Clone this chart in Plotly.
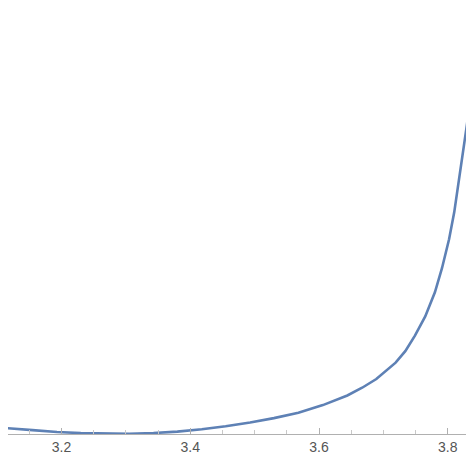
import plotly.graph_objects as go

x_vals = [3.10, 3.117, 3.155, 3.193, 3.23, 3.268, 3.305, 3.343, 3.38, 3.418, 3.455, 3.493, 3.53, 3.568, 3.606, 3.644, 3.667, 3.689, 3.704, 3.719, 3.734, 3.749, 3.765, 3.780, 3.791, 3.802, 3.810, 3.817, 3.824, 3.830, 3.84]
y_vals = [5, 6, 4, 2, 1, 0.3, 0.2, 1, 2.5, 5, 8, 12, 16.5, 22, 30, 40, 48, 57, 65, 74, 86, 102, 122, 147, 172, 202, 230, 262, 292, 322, 380]
tick_vals = [3.2, 3.4, 3.6, 3.8]
tick_text = ["3.2", "3.4", "3.6", "3.8"]

fig = go.Figure(go.Scatter(x=x_vals, y=y_vals, mode="lines", line=dict(color="#5E81B5", width=2.6)))
fig.update_layout(autosize=True, margin=dict(l=0, r=0, t=0, b=32),
                  plot_bgcolor="white", paper_bgcolor="white", showlegend=False)
fig.update_xaxes(range=[3.117, 3.8283], tickvals=tick_vals, ticktext=tick_text, showgrid=False,
                 showline=True, linecolor="#b0b0b0", linewidth=1, ticks="inside", ticklen=6,
                 tickcolor="#b0b0b0", minor=dict(dtick=0.05, ticks="inside", ticklen=4, tickcolor="#c8c8c8"),
                 tickfont=dict(family="Liberation Sans", size=14, color="#555"), zeroline=False)
fig.update_yaxes(range=[0, 442], visible=False)
fig.write_html("out.html", default_width="100%", default_height="100%")
